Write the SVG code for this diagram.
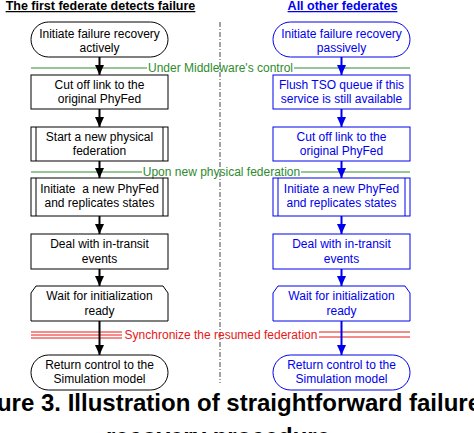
<svg xmlns="http://www.w3.org/2000/svg" width="474" height="433" viewBox="0 0 474 433">
<style>
text{font-family:"Liberation Sans",Arial,sans-serif;font-size:12px;text-anchor:middle}
.k{fill:none;stroke:#000;stroke-width:1}
.b{fill:none;stroke:#0000ee;stroke-width:1}
.kt{fill:#000}
.bt{fill:#0000ee}
.ttl{font-weight:bold;text-decoration:underline;font-size:12.5px}
.ak{stroke:#000;stroke-width:2;fill:none}
.ab{stroke:#0000ee;stroke-width:2;fill:none}
.g{stroke:#2e8b2e;stroke-width:1;fill:none}
.gt{fill:#2e8b2e}
.r{stroke:#e81818;stroke-width:1;fill:none}
.rt{fill:#e81818}
.cap{font-weight:bold;font-size:24px;fill:#000}
</style>
<defs>
<marker id="mk" markerWidth="10" markerHeight="9" refX="10" refY="4.5" orient="auto" markerUnits="userSpaceOnUse"><path d="M0,0 L10,4.5 L0,9 Z" fill="#000"/></marker>
<marker id="mb" markerWidth="10" markerHeight="9" refX="10" refY="4.5" orient="auto" markerUnits="userSpaceOnUse"><path d="M0,0 L10,4.5 L0,9 Z" fill="#0000ee"/></marker>
</defs>
<rect width="474" height="433" fill="#fff"/>
<text class="ttl kt" x="100.5" y="10">The first federate detects failure</text>
<text class="ttl bt" x="342.5" y="10">All other federates</text>
<line x1="220" y1="22" x2="220" y2="383" stroke="#444" stroke-width="1" stroke-dasharray="5,2,1,2"/>
<g id="dividers">
<line class="g" x1="31" y1="68" x2="147" y2="68"/><line class="g" x1="294" y1="68" x2="410" y2="68"/>
<text class="gt" x="220.5" y="72">Under Middleware's control</text>
<line class="g" x1="31" y1="172" x2="142" y2="172"/><line class="g" x1="301" y1="172" x2="410" y2="172"/>
<text class="gt" x="221.5" y="176">Upon new physical federation</text>
<line class="r" x1="31" y1="332" x2="122" y2="332"/><line class="r" x1="31" y1="335" x2="122" y2="335"/><line class="r" x1="31" y1="338" x2="122" y2="338"/>
<line class="r" x1="319" y1="332" x2="410" y2="332"/><line class="r" x1="319" y1="337" x2="410" y2="337"/>
<text class="rt" x="221" y="339">Synchronize the resumed federation</text>
</g>
<g id="connectors">
<line class="ak" x1="99.5" y1="57" x2="99.5" y2="75" marker-end="url(#mk)"/>
<line class="ak" x1="99.5" y1="109" x2="99.5" y2="127" marker-end="url(#mk)"/>
<line class="ak" x1="99.5" y1="161" x2="99.5" y2="178" marker-end="url(#mk)"/>
<line class="ak" x1="99.5" y1="216" x2="99.5" y2="234" marker-end="url(#mk)"/>
<line class="ak" x1="99.5" y1="269" x2="99.5" y2="286" marker-end="url(#mk)"/>
<line class="ak" x1="99.5" y1="321" x2="99.5" y2="355" marker-end="url(#mk)"/>
<line class="ab" x1="341.5" y1="57" x2="341.5" y2="75" marker-end="url(#mb)"/>
<line class="ab" x1="341.5" y1="109" x2="341.5" y2="127" marker-end="url(#mb)"/>
<line class="ab" x1="341.5" y1="161" x2="341.5" y2="178" marker-end="url(#mb)"/>
<line class="ab" x1="341.5" y1="216" x2="341.5" y2="234" marker-end="url(#mb)"/>
<line class="ab" x1="341.5" y1="269" x2="341.5" y2="286" marker-end="url(#mb)"/>
<line class="ab" x1="341.5" y1="321" x2="341.5" y2="355" marker-end="url(#mb)"/>
</g>
<g id="L1"><rect class="k" x="31" y="22" width="137" height="35" rx="17.5" ry="17.5"/><text class="kt" x="99.5" y="38">Initiate failure recovery</text><text class="kt" x="99.5" y="51.5">actively</text></g>
<g id="L2"><rect class="k" x="31" y="75" width="137" height="34"/><text class="kt" x="99.5" y="88.5">Cut off link to the</text><text class="kt" x="99.5" y="102.5">original PhyFed</text></g>
<g id="L3"><rect class="k" x="31" y="127" width="137" height="34"/><line class="k" x1="36" y1="127" x2="36" y2="161"/><line class="k" x1="163" y1="127" x2="163" y2="161"/><text class="kt" x="99.5" y="140.5">Start a new physical</text><text class="kt" x="99.5" y="154.5">federation</text></g>
<g id="L4"><rect class="k" x="31" y="178" width="137" height="38"/><line class="k" x1="36" y1="178" x2="36" y2="216"/><line class="k" x1="163" y1="178" x2="163" y2="216"/><text class="kt" x="99.5" y="193" xml:space="preserve">Initiate  a new PhyFed</text><text class="kt" x="99.5" y="207">and replicates states</text></g>
<g id="L5"><rect class="k" x="31" y="234" width="137" height="35"/><text class="kt" x="99.5" y="248">Deal with in-transit</text><text class="kt" x="99.5" y="262.5">events</text></g>
<g id="L6"><path class="k" d="M31,293 L36,286 L163,286 L168,293 L168,321 L31,321 Z"/><text class="kt" x="99.5" y="300">Wait for initialization</text><text class="kt" x="99.5" y="315">ready</text></g>
<g id="L7"><rect class="k" x="31" y="355" width="137" height="35" rx="17.5" ry="17.5"/><text class="kt" x="99.5" y="369">Return control to the</text><text class="kt" x="99.5" y="383">Simulation model</text></g>
<g id="R1"><rect class="b" x="273" y="22" width="137" height="35" rx="17.5" ry="17.5"/><text class="bt" x="341.5" y="38">Initiate failure recovery</text><text class="bt" x="341.5" y="51.5">passively</text></g>
<g id="R2"><rect class="b" x="273" y="75" width="137" height="34"/><text class="bt" x="341.5" y="88.5">Flush TSO queue if this</text><text class="bt" x="341.5" y="102.5">service is still available</text></g>
<g id="R3"><rect class="b" x="273" y="127" width="137" height="34"/><text class="bt" x="341.5" y="140.5">Cut off link to the</text><text class="bt" x="341.5" y="154.5">original PhyFed</text></g>
<g id="R4"><rect class="b" x="273" y="178" width="137" height="38"/><line class="b" x1="278" y1="178" x2="278" y2="216"/><line class="b" x1="405" y1="178" x2="405" y2="216"/><text class="bt" x="341.5" y="193">Initiate a new PhyFed</text><text class="bt" x="341.5" y="207">and replicates states</text></g>
<g id="R5"><rect class="b" x="273" y="234" width="137" height="35"/><text class="bt" x="341.5" y="248">Deal with in-transit</text><text class="bt" x="341.5" y="262.5">events</text></g>
<g id="R6"><path class="b" d="M273,293 L278,286 L405,286 L410,293 L410,321 L273,321 Z"/><text class="bt" x="341.5" y="300">Wait for initialization</text><text class="bt" x="341.5" y="315">ready</text></g>
<g id="R7"><rect class="b" x="273" y="355" width="137" height="35" rx="17.5" ry="17.5"/><text class="bt" x="341.5" y="369">Return control to the</text><text class="bt" x="341.5" y="383">Simulation model</text></g>
<text class="cap" x="221" y="411">Figure 3. Illustration of straightforward failure</text>
<text class="cap" x="218" y="445">recovery procedure</text>
</svg>
